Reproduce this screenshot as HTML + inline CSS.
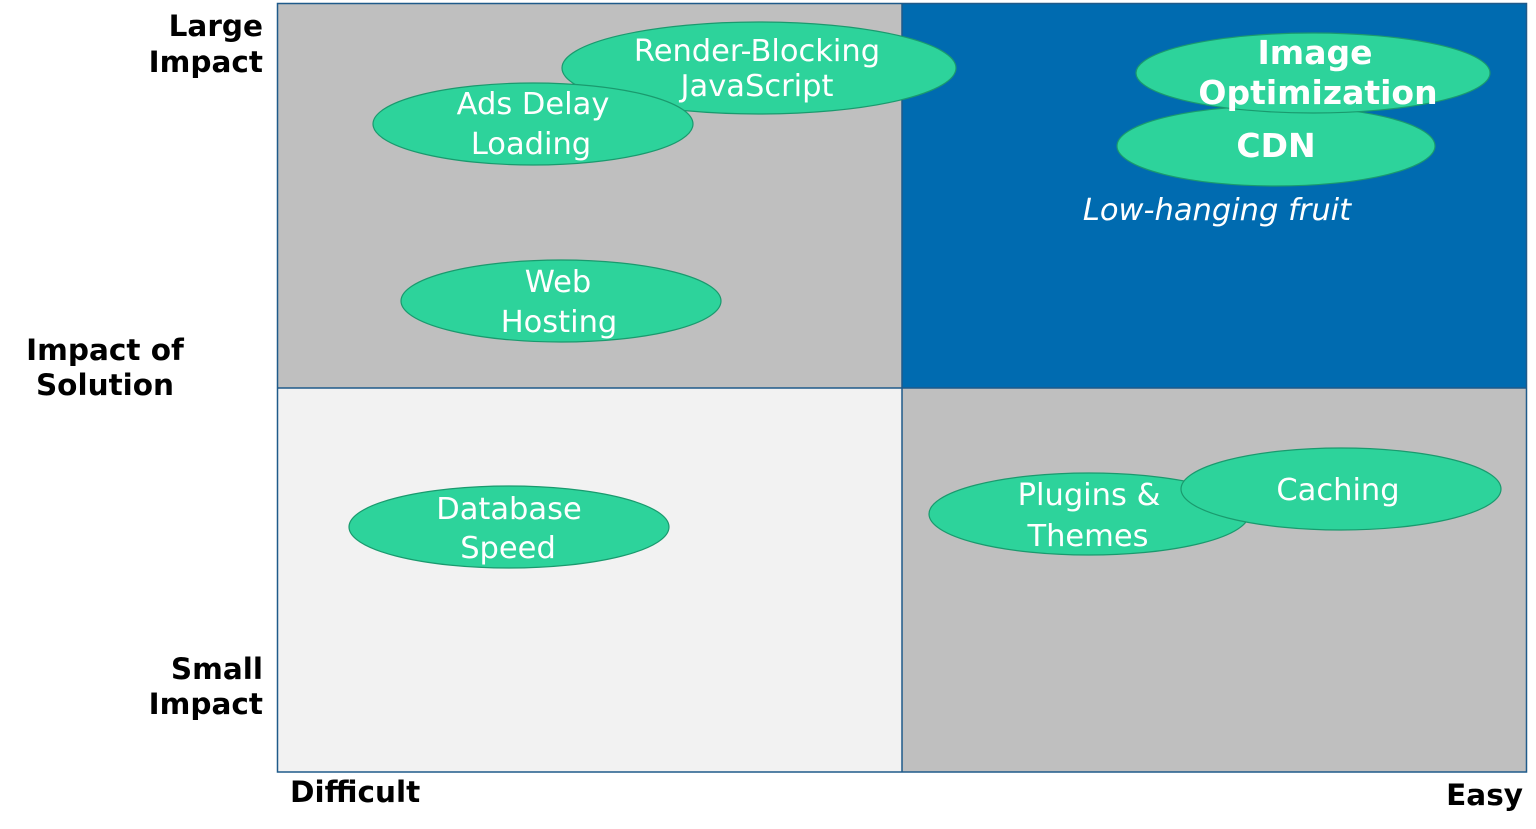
<!DOCTYPE html>
<html><head><meta charset="utf-8"><style>
html,body{margin:0;padding:0;background:#fff;}
svg{display:block;}
text{font-family:"DejaVu Sans","Liberation Sans",sans-serif;}
</style></head><body>
<svg width="1536" height="829" viewBox="0 0 1536 829" xmlns="http://www.w3.org/2000/svg">
<rect x="277" y="3" width="625" height="385" fill="#bfbfbf"/>
<rect x="902" y="3" width="625" height="385" fill="#006bb0"/>
<rect x="277" y="388" width="625" height="384" fill="#f2f2f2"/>
<rect x="902" y="388" width="625" height="384" fill="#bfbfbf"/>
<rect x="277.5" y="3.5" width="1249" height="768.5" fill="none" stroke="#1f5a8a" stroke-width="1.5"/>
<line x1="902" y1="3" x2="902" y2="772" stroke="#1f5a8a" stroke-width="1.5"/>
<line x1="277" y1="388" x2="1527" y2="388" stroke="#1f5a8a" stroke-width="1.5"/>

<g fill="#2dd39b" stroke="#1a9a6e" stroke-width="1.2">
<ellipse cx="759" cy="68" rx="197" ry="46"/>
<ellipse cx="533" cy="124" rx="160" ry="41"/>
<ellipse cx="561" cy="301" rx="160" ry="41"/>
<ellipse cx="1276" cy="146" rx="159" ry="40"/>
<ellipse cx="1313" cy="73" rx="177" ry="40"/>
<ellipse cx="509" cy="527" rx="160" ry="41"/>
<ellipse cx="1089" cy="514" rx="160" ry="41"/>
<ellipse cx="1341" cy="489" rx="160" ry="41"/>
</g>

<g fill="#fff" font-size="30.5" text-anchor="middle">
<text x="757" y="61">Render-Blocking</text>
<text x="757" y="96">JavaScript</text>
<text x="533" y="114">Ads Delay</text>
<text x="531" y="154">Loading</text>
<text x="558" y="292">Web</text>
<text x="559" y="332">Hosting</text>
<text x="509" y="519">Database</text>
<text x="508" y="558">Speed</text>
<text x="1089" y="505">Plugins &amp;</text>
<text x="1088" y="546">Themes</text>
<text x="1338" y="500">Caching</text>
<text x="1217" y="220" font-style="italic">Low-hanging fruit</text>
</g>
<g fill="#fff" font-size="33" font-weight="bold" text-anchor="middle">
<text x="1315" y="64">Image</text>
<text x="1318" y="104">Optimization</text>
<text x="1276" y="157">CDN</text>
</g>

<g fill="#000" font-size="29.5" font-weight="bold">
<text x="263" y="36" text-anchor="end">Large</text>
<text x="263" y="72" text-anchor="end">Impact</text>
<text x="105" y="360" text-anchor="middle">Impact of</text>
<text x="105" y="395" text-anchor="middle">Solution</text>
<text x="263" y="679" text-anchor="end">Small</text>
<text x="263" y="714" text-anchor="end">Impact</text>
<text x="290" y="802">Difficult</text>
<text x="1523" y="805" text-anchor="end">Easy</text>
</g>
</svg>
</body></html>
